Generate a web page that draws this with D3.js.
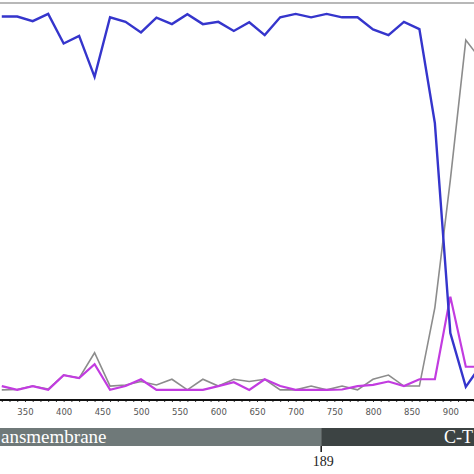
<!DOCTYPE html>
<html>
<head>
<meta charset="utf-8">
<script src="https://cdn.jsdelivr.net/npm/d3@7"></script>
<style>
html,body{margin:0;padding:0;background:#fff;}
svg{display:block;}
</style>
</head>
<body>
<svg id="chart" width="474" height="474"></svg>
<script>
// ---- data ----
const positions = [320,340,360,380,400,420,440,460,480,500,520,540,560,580,600,620,640,660,680,700,720,740,760,780,800,820,840,860,880,900,920,940];
const blueSeries = [0.988,0.988,0.976,0.995,0.917,0.937,0.829,0.986,0.974,0.946,0.985,0.968,0.994,0.968,0.974,0.950,0.973,0.939,0.986,0.995,0.986,0.995,0.986,0.986,0.954,0.939,0.974,0.955,0.707,0.153,0.011,0.069];
const graySeries = [0.003,0.004,0.013,0.005,0.042,0.034,0.101,0.013,0.016,0.025,0.016,0.031,0.003,0.031,0.013,0.031,0.025,0.031,0.003,0.003,0.013,0.003,0.013,0.003,0.031,0.042,0.013,0.013,0.220,0.557,0.926,0.873];
const purpleSeries = [0.013,0.003,0.013,0.003,0.042,0.034,0.071,0.003,0.013,0.031,0.003,0.003,0.003,0.003,0.013,0.023,0.003,0.031,0.013,0.003,0.003,0.003,0.004,0.013,0.016,0.025,0.013,0.031,0.031,0.249,0.064,0.064];
const tickLabels = [350,400,450,500,550,600,650,700,750,800,850,900];
const domainLabels = ["ansmembrane","C-T"];
const domainStarts = [300,733];
const domainEnds = [733,960];
const boundaryLabels = ["189"];
const boundaryPositions = [733];

// ---- layout ----
const svg = d3.select("#chart");
const x = d3.scaleLinear().domain([317.7, 930.6]).range([0, 474]);
const y = d3.scaleLinear().domain([0, 1]).range([391, 12]);

// top frame line
svg.append("line").attr("x1",0).attr("x2",474).attr("y1",3).attr("y2",3)
  .attr("stroke","#a0a0a0").attr("stroke-width",1.5);

// axis
const axisY = 400;
const minor = d3.range(320, 940, 10);
const axisG = svg.append("g").attr("transform",`translate(0,${axisY})`);
axisG.append("g").call(d3.axisBottom(x).tickValues(minor).tickSize(2).tickFormat(""))
  .call(g=>g.select(".domain").remove())
  .call(g=>g.selectAll(".tick line").attr("stroke","#333"));
axisG.append("g").call(d3.axisBottom(x).tickValues(tickLabels).tickSize(0).tickPadding(9).tickFormat(d3.format("d")))
  .call(g=>g.select(".domain").remove())
  .call(g=>g.selectAll("text").attr("fill","#555").attr("font-family","DejaVu Sans, sans-serif").attr("font-size","8.5px"));
svg.append("line").attr("x1",0).attr("x2",474).attr("y1",axisY).attr("y2",axisY)
  .attr("stroke","#111").attr("stroke-width",2);

// lines
function drawLine(vals, color, w){
  const line = d3.line().x((d,i)=>x(positions[i])).y(d=>y(d));
  svg.append("path").datum(vals).attr("d",line).attr("fill","none")
    .attr("stroke",color).attr("stroke-width",w).attr("stroke-linejoin","miter");
}
drawLine(graySeries, "#8c8c8c", 1.6);
drawLine(purpleSeries, "#c23ce0", 2.2);
drawLine(blueSeries, "#3535cc", 2.4);

// domain band
const bandY = 428, bandH = 18;
const bandColors = ["#6f7979","#3c4343"];
svg.selectAll("rect.band").data(domainLabels).enter().append("rect")
  .attr("x",(d,i)=>Math.max(0,x(domainStarts[i])))
  .attr("width",(d,i)=>x(domainEnds[i])-Math.max(0,x(domainStarts[i])))
  .attr("y",bandY).attr("height",bandH).attr("fill",(d,i)=>bandColors[i]);
svg.append("text").text(domainLabels[0]).attr("x",1).attr("y",bandY+15)
  .attr("fill","#fff")
  .attr("font-family","Liberation Serif, Times New Roman, serif").attr("font-size","19px");
svg.append("text").text(domainLabels[1]).attr("x",444).attr("y",bandY+15)
  .attr("fill","#fff")
  .attr("font-family","Liberation Serif, Times New Roman, serif").attr("font-size","18px");

// boundary marker
boundaryPositions.forEach((p,i)=>{
  svg.append("line").attr("x1",x(p)).attr("x2",x(p)).attr("y1",bandY+bandH).attr("y2",bandY+bandH+6)
    .attr("stroke","#111").attr("stroke-width",1.5);
  svg.append("text").text(boundaryLabels[i]).attr("x",x(p)+2).attr("y",466)
    .attr("text-anchor","middle").attr("fill","#222")
    .attr("font-family","Liberation Serif, Times New Roman, serif").attr("font-size","14px");
});
</script>
</body>
</html>
